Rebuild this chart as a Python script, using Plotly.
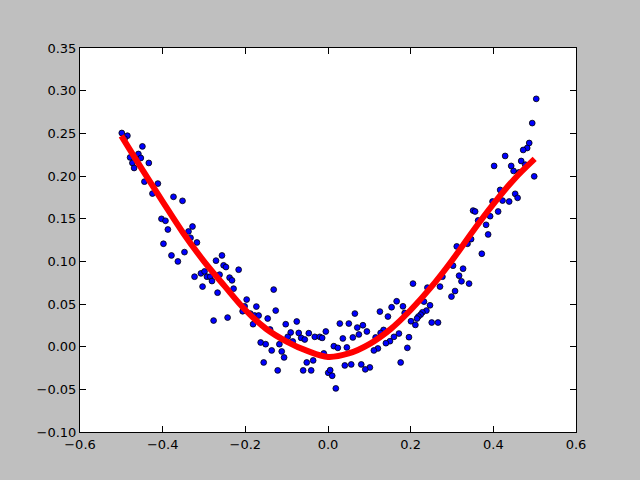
import plotly.graph_objects as go

# scatter data
pts_x = [-0.4989,-0.4853,-0.4921,-0.4490,-0.4587,-0.4788,-0.4528,-0.4732,-0.4691,-0.4335,
         -0.4441,-0.4116,-0.4247,-0.3738,-0.3520,-0.4029,-0.3932,-0.3874,-0.3375,-0.3981,
         -0.3472,-0.3787,-0.3632,-0.3278,-0.3326,-0.3171,-0.2565,-0.2710,-0.2526,-0.2468,
         -0.2162,-0.3074,-0.2987,-0.3229,-0.2928,-0.2848,-0.2807,-0.2623,-0.2381,-0.2322,
         -0.3035,-0.2284,-0.2672,-0.1968,-0.2017,-0.1733,-0.2065,-0.1879,-0.1775,-0.1678,
         -0.2768,-0.2429,-0.1813,-0.1314,-0.1265,-0.1459,-0.0756,-0.1023,-0.1401,-0.0902,
         -0.0708,-0.0975,-0.0465,-0.0650,-0.0562,-0.0853,-0.0320,-0.0199,-0.0141,-0.0053,
         -0.1629,-0.1508,-0.1176,-0.1362,-0.1120,-0.0102,-0.1062,-0.0359,-0.0514,-0.1556,
         -0.1217,-0.0601,-0.0407,0.0005,0.0053,0.1661,0.1256,0.1539,0.0650,0.1450,
         0.0286,0.0504,0.0708,0.0844,0.0941,0.0747,0.1345,0.1273,0.1716,0.1595,
         0.1498,0.1401,0.0359,0.0601,0.1152,0.0141,0.0238,0.0456,0.1207,0.1110,
         0.1758,0.0407,0.0562,0.0805,0.1013,0.0902,0.0102,0.0189,0.3115,0.3375,
         0.3025,0.3268,0.3171,0.3229,0.3413,0.2056,0.2768,0.2710,0.2405,0.3074,
         0.2987,0.2322,0.1813,0.2468,0.2381,0.2284,0.1855,0.2242,0.2187,0.2153,
         0.2007,0.2114,0.2509,0.2662,0.1959,0.1920,0.5038,0.4941,0.4868,0.4819,
         0.4722,0.4286,0.4019,0.4674,0.4432,0.4490,0.4625,0.4771,0.4989,0.4165,
         0.3981,0.4223,0.4383,0.4528,0.4587,0.3510,0.3559,0.4116,0.3632,0.3922,
         0.3825,0.3874,0.3462,0.3721]
pts_y = [0.2504,0.2472,0.2437,0.2347,0.2258,0.2218,0.2211,0.2153,0.2094,0.2153,
         0.1934,0.1911,0.1794,0.1756,0.1709,0.1498,0.1475,0.1373,0.1350,0.1206,
         0.1108,0.1069,0.0999,0.1408,0.1276,0.1221,0.1069,0.1008,0.0953,0.0933,
         0.0902,0.0859,0.0882,0.0820,0.0820,0.0820,0.0769,0.0844,0.0809,0.0777,
         0.0704,0.0680,0.0633,0.0552,0.0473,0.0470,0.0415,0.0388,0.0365,0.0365,
         0.0306,0.0341,0.0263,0.0669,0.0423,0.0330,0.0295,0.0263,0.0201,0.0166,
         0.0161,0.0115,0.0158,0.0103,0.0084,0.0061,0.0115,0.0115,0.0103,0.0178,
         0.0049,0.0029,0.0029,-0.0044,-0.0056,-0.0079,-0.0126,-0.0161,-0.0185,-0.0185,
         -0.0278,-0.0278,-0.0278,-0.0306,-0.0275,0.0532,0.0411,0.0462,0.0388,0.0353,
         0.0271,0.0271,0.0224,0.0251,0.0178,0.0143,0.0196,0.0161,0.0154,0.0115,
         0.0064,0.0041,0.0096,0.0108,0.0108,0.0006,-0.0014,-0.0009,-0.0021,-0.0044,
         -0.0185,-0.0220,-0.0208,-0.0208,-0.0243,-0.0266,-0.0341,-0.0489,0.1175,0.1206,
         0.0949,0.0914,0.0832,0.0766,0.0739,0.0739,0.0820,0.0704,0.0692,0.0652,
         0.0587,0.0528,0.0473,0.0485,0.0423,0.0403,0.0395,0.0376,0.0353,0.0330,
         0.0298,0.0255,0.0283,0.0283,0.0111,-0.0014,0.2904,0.2620,0.2387,0.2328,
         0.2305,0.2235,0.2118,0.2176,0.2118,0.2059,0.2043,0.2133,0.1996,0.1837,
         0.1701,0.1712,0.1701,0.1791,0.1744,0.1595,0.1584,0.1584,0.1479,0.1529,
         0.1428,0.1315,0.1260,0.1089]

# fitted curve
fit_x = [-0.50,-0.45,-0.40,-0.35,-0.30,-0.25,-0.20,-0.15,-0.10,-0.05,0.00,
         0.05,0.10,0.15,0.20,0.25,0.30,0.35,0.40,0.45,0.50]
fit_y = [0.247,0.208,0.170,0.133,0.100,0.071,0.043,0.021,0.006,-0.005,-0.012,
         -0.008,0.003,0.020,0.043,0.070,0.101,0.135,0.167,0.196,0.220]

x_ticks = [-0.6,-0.4,-0.2,0.0,0.2,0.4,0.6]
y_ticks = [-0.10,-0.05,0.00,0.05,0.10,0.15,0.20,0.25,0.30,0.35]

fig = go.Figure()
fig.add_trace(go.Scatter(x=pts_x, y=pts_y, mode="markers",
                         marker=dict(color="#0000ff", size=5.8,
                                     line=dict(color="black", width=0.8)),
                         showlegend=False))
fig.add_trace(go.Scatter(x=fit_x, y=fit_y, mode="lines",
                         line=dict(color="#ff0000", width=6, shape="spline"),
                         showlegend=False))

axis_common = dict(showgrid=False, zeroline=False, showline=True, linecolor="black",
                   linewidth=1, mirror="ticks", ticks="inside", ticklen=6,
                   tickcolor="black", tickfont=dict(family="DejaVu Sans", size=13, color="black"))
fig.update_xaxes(range=[-0.6, 0.6], tickmode="array", tickvals=x_ticks,
                 tickformat=".1f", **axis_common)
fig.update_yaxes(range=[-0.10, 0.35], tickmode="array", tickvals=y_ticks,
                 tickformat=".2f", **axis_common)
fig.update_layout(width=640, height=480, paper_bgcolor="#bfbfbf", plot_bgcolor="white",
                  margin=dict(l=80, r=64, t=48, b=48))
fig.write_html("out.html", config={"displayModeBar": False},
               post_script="document.body.style.margin='0';"
                           "document.body.style.background='#bfbfbf';")
